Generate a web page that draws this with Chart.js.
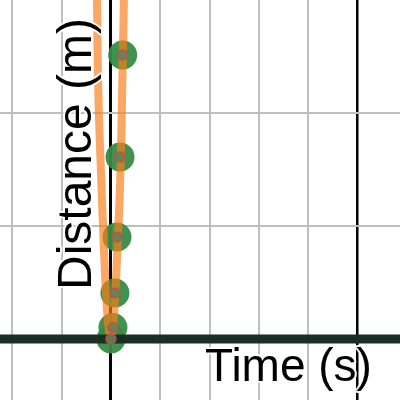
<!DOCTYPE html>
<html>
<head>
<meta charset="utf-8">
<script src="https://cdn.jsdelivr.net/npm/chart.js@4"></script>
<style>
  html, body { margin: 0; padding: 0; background: #fff; }
  #wrap { width: 400px; height: 400px; }
</style>
</head>
<body>
<div id="wrap"><canvas id="chart" width="400" height="400"></canvas></div>
<script>
// measured points (time, distance)
const times = [0, 0.04, 0.08, 0.122, 0.183, 0.237];
const distances = [0, 0.102, 0.407, 0.903, 1.611, 2.513];

// fitted curve (left branch then right branch)
const fitT = [-0.284, -0.258, -0.197, -0.142, -0.093, -0.045, -0.01, 0.034, 0.081, 0.130, 0.187, 0.227, 0.264];
const fitD = [3.04, 2.204, 1.407, 0.788, 0.345, 0.080, 0, 0.080, 0.345, 0.788, 1.407, 2.204, 3.04];

// the thick time axis line
const baseT = [-3, 7];
const baseD = [0, 0];

// grid positions
const xTicks = [-2, -1, 0, 1, 2, 3, 4, 5];
const yTicks = [0, 1, 2];

// visible window
const tMin = -2.25, tMax = 5.86;
const dMin = -0.54, dMax = 3.0;

const xLabel = "Time (s)";
const yLabel = "Distance (m)";

const toPts = (xs, ys) => xs.map((x, i) => ({x: x, y: ys[i]}));

const labelPlugin = {
    id: "labels",
    afterDatasetsDraw(chart) {
        const ctx = chart.ctx;
        ctx.save();
        ctx.lineJoin = "round";
        ctx.strokeStyle = "rgba(255,255,255,0.9)";
        ctx.lineWidth = 4;
        ctx.fillStyle = "#000";
        ctx.textBaseline = "alphabetic";

        ctx.font = "46px 'Liberation Sans', Arial, sans-serif";
        ctx.textAlign = "left";
        ctx.strokeText(xLabel, 205, 381);
        ctx.fillText(xLabel, 205, 381);

        ctx.translate(91, 290);
        ctx.rotate(-Math.PI / 2);
        ctx.font = "48px 'Liberation Sans', Arial, sans-serif";
        ctx.strokeText(yLabel, 0, 0);
        ctx.fillText(yLabel, 0, 0);
        ctx.restore();
    }
};

new Chart(document.getElementById("chart"), {
    type: "scatter",
    data: {
        datasets: [
            {data: toPts(times, distances), pointRadius: 5, pointBackgroundColor: "rgba(100,128,96,0.9)",
             pointBorderColor: "rgba(210,72,62,0.85)", pointBorderWidth: 1.5, showLine: false},
            {data: toPts(baseT, baseD), showLine: true, borderColor: "#1b2e24", borderWidth: 9, pointRadius: 0},
            {data: toPts(fitT, fitD), showLine: true, borderColor: "rgba(250,126,25,0.68)", borderWidth: 8,
             pointRadius: 0, tension: 0.4},
            {data: toPts(times, distances), pointRadius: 14.5, pointBackgroundColor: "rgba(56,140,70,0.95)",
             pointBorderWidth: 0, showLine: false}
        ]
    },
    options: {
        responsive: false,
        animation: false,
        layout: {padding: 0, autoPadding: false},
        plugins: {legend: {display: false}, tooltip: {enabled: false}},
        scales: {
            x: {
                type: "linear", min: tMin, max: tMax,
                border: {display: false},
                afterBuildTicks: s => { s.ticks = xTicks.map(v => ({value: v})); },
                ticks: {display: false, padding: 0},
                grid: {
                    drawTicks: false,
                    color: c => (c.tick.value === 0 || c.tick.value === 5) ? "#000" : "#bfbfbf",
                    lineWidth: c => c.tick.value === 0 ? 3 : (c.tick.value === 5 ? 2.5 : 2)
                }
            },
            y: {
                type: "linear", min: dMin, max: dMax,
                border: {display: false},
                afterBuildTicks: s => { s.ticks = yTicks.map(v => ({value: v})); },
                ticks: {display: false, padding: 0},
                grid: {
                    drawTicks: false,
                    color: c => c.tick.value === 0 ? "rgba(0,0,0,0)" : "#bfbfbf",
                    lineWidth: 2
                }
            }
        }
    },
    plugins: [labelPlugin]
});
</script>
</body>
</html>
